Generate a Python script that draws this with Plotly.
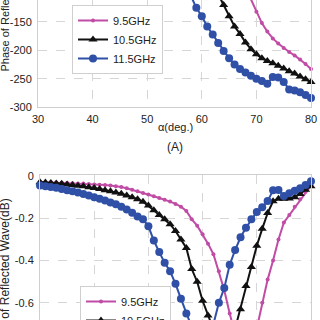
import plotly.graph_objects as go

alpha = list(range(30, 81))

# Phase of reflected wave (deg.) -- top panel
phase_95 = [-2, -3, -4, -5, -6, -7, -8, -9, -10, -11,
            -12, -13, -14, -15, -16, -17, -18, -19, -20, -22,
            -24, -26, -28, -30, -32, -34, -36, -38, -41, -44,
            -47, -51, -55, -59, -64, -69, -75, -82, -92, -110,
            -132, -152, -167, -179, -188, -196, -203, -209, -216, -224, -233]
phase_105 = [-6, -7, -8, -9, -10, -11, -12, -13, -14, -15,
             -16, -18, -20, -22, -24, -26, -28, -30, -32, -34,
             -36, -39, -42, -45, -48, -52, -56, -61, -66, -72,
             -79, -86, -93, -101, -120, -140, -158, -171, -186, -198,
             -207, -214, -219, -223, -227, -232, -237, -241, -246, -251, -256]
phase_115 = [-12, -14, -16, -18, -20, -22, -24, -26, -28, -30,
             -32, -35, -38, -41, -44, -47, -50, -53, -56, -59,
             -62, -66, -70, -75, -80, -86, -93, -98, -104, -125,
             -140, -158, -172, -187, -201, -214, -225, -233, -239, -245,
             -250, -254, -259, -247, -248, -256, -269, -271, -274, -279, -284]

# Magnitude of reflected wave (dB) -- bottom panel
mag_95 = [-0.028, -0.029, -0.030, -0.031, -0.032, -0.033, -0.034, -0.035, -0.036, -0.038,
          -0.040, -0.041, -0.043, -0.045, -0.048, -0.052, -0.058, -0.065, -0.072, -0.080,
          -0.088, -0.096, -0.104, -0.112, -0.121, -0.132, -0.145, -0.165, -0.205, -0.235,
          -0.275, -0.320, -0.370, -0.450, -0.540, -0.650, -0.760, -0.850, -0.880, -0.840,
          -0.720, -0.600, -0.490, -0.400, -0.300, -0.220, -0.185, -0.145, -0.110, -0.075, -0.045]
mag_105 = [-0.030, -0.031, -0.033, -0.035, -0.037, -0.040, -0.043, -0.046, -0.049, -0.053,
           -0.057, -0.062, -0.067, -0.072, -0.078, -0.084, -0.092, -0.100, -0.110, -0.122,
           -0.140, -0.162, -0.185, -0.205, -0.228, -0.260, -0.300, -0.340, -0.440, -0.500,
           -0.590, -0.660, -0.750, -0.820, -0.860, -0.820, -0.720, -0.630, -0.520, -0.430,
           -0.330, -0.250, -0.175, -0.120, -0.108, -0.108, -0.106, -0.100, -0.085, -0.065, -0.048]
mag_115 = [-0.045, -0.048, -0.052, -0.056, -0.062, -0.067, -0.072, -0.078, -0.085, -0.092,
           -0.100, -0.108, -0.116, -0.125, -0.134, -0.145, -0.158, -0.174, -0.192, -0.205,
           -0.238, -0.305, -0.360, -0.410, -0.450, -0.510, -0.580, -0.650, -0.720, -0.800,
           -0.850, -0.800, -0.700, -0.600, -0.530, -0.420, -0.350, -0.290, -0.245, -0.205,
           -0.170, -0.148, -0.118, -0.068, -0.066, -0.095, -0.082, -0.070, -0.058, -0.042, -0.025]

names = ["9.5GHz", "10.5GHz", "11.5GHz"]
colors = ["#c04ca6", "#111111", "#2f50a6"]
symbols = ["circle", "triangle-up", "circle"]
msizes = [4, 8, 8]

phase_ticks = [-150, -200, -250, -300]
phase_ticktext = ["-150", "-200", "-250", "-300"]
x_ticks = [30, 40, 50, 60, 70, 80]
mag_ticks = [0, -0.2, -0.4, -0.6]
mag_ticktext = ["0", "-0.2", "-0.4", "-0.6"]

W = H = 320
FONT = "Liberation Sans, Arial, sans-serif"
TXT = "#222222"
GRID = "#d6d6d6"
FRAME = "#cfcfcf"

fig = go.Figure()
for i, ys in enumerate([phase_95, phase_105, phase_115]):
    fig.add_trace(go.Scatter(
        x=alpha, y=ys, name=names[i], mode="lines+markers",
        line=dict(color=colors[i], width=2),
        marker=dict(symbol=symbols[i], size=msizes[i], color=colors[i]),
        xaxis="x", yaxis="y", legend="legend", cliponaxis=False))
for i, ys in enumerate([mag_95, mag_105, mag_115]):
    fig.add_trace(go.Scatter(
        x=alpha, y=ys, name=names[i], mode="lines+markers",
        line=dict(color=colors[i], width=2),
        marker=dict(symbol=symbols[i], size=msizes[i], color=colors[i]),
        xaxis="x2", yaxis="y2", legend="legend2", cliponaxis=False))

axis_common = dict(showgrid=True, gridcolor=GRID, griddash="dash", gridwidth=1,
                   zeroline=False, ticks="", linecolor=FRAME, linewidth=1,
                   tickfont=dict(family=FONT, size=11, color=TXT))

fig.update_layout(
    width=W, height=H, margin=dict(l=0, r=0, t=0, b=0, pad=0, autoexpand=False),
    paper_bgcolor="white", plot_bgcolor="white",
    font=dict(family=FONT, size=11, color=TXT),
    xaxis=dict(domain=[38 / W, 311 / W], range=[30, 80], tickvals=x_ticks,
               showline=True, mirror=False, anchor="y", ticklabelstandoff=2,
               **axis_common),
    yaxis=dict(domain=[1 - 107 / H, 1], range=[-300, -111.2], tickvals=phase_ticks,
               ticktext=phase_ticktext, showline=True, mirror=True, anchor="x",
               ticklabelstandoff=3, **axis_common),
    xaxis2=dict(domain=[40 / W, 311 / W], range=[30, 80], tickvals=x_ticks,
                showticklabels=False, showline=True, mirror=True, anchor="y2",
                **axis_common),
    yaxis2=dict(domain=[0, 1 - 175 / H], range=[-0.681, 0.0047], tickvals=mag_ticks,
                ticktext=mag_ticktext, showline=True, mirror=True, anchor="x2",
                ticklabelstandoff=3, **axis_common),
    legend=dict(x=72 / W, y=1 - 5 / H, xanchor="left", yanchor="top",
                bgcolor="white", bordercolor=FRAME, borderwidth=1,
                font=dict(family=FONT, size=11, color=TXT), itemwidth=30,
                tracegroupgap=0),
    legend2=dict(x=80 / W, y=1 - 286 / H, xanchor="left", yanchor="top",
                 bgcolor="white", bordercolor=FRAME, borderwidth=1,
                 font=dict(family=FONT, size=11, color=TXT), itemwidth=30,
                 tracegroupgap=0),
    showlegend=True,
)

fig.add_annotation(text="\u03b1(deg.)", xref="paper", yref="paper",
                   x=175 / W, y=1 - 127 / H, showarrow=False,
                   font=dict(family=FONT, size=11, color=TXT))
fig.add_annotation(text="(A)", xref="paper", yref="paper",
                   x=175 / W, y=1 - 147 / H, showarrow=False,
                   font=dict(family=FONT, size=12, color=TXT))
fig.add_annotation(text="Phase of Reflected Wave(deg.)", xref="paper", yref="paper",
                   x=5 / W, y=1 + 4.5 / H, textangle=-90, showarrow=False,
                   xanchor="center", yanchor="middle",
                   font=dict(family=FONT, size=11, color=TXT))
fig.add_annotation(text="Magnitude of Reflected Wave(dB)", xref="paper", yref="paper",
                   x=5 / W, y=1 - 288 / H, textangle=-90, showarrow=False,
                   xanchor="center", yanchor="middle",
                   font=dict(family=FONT, size=12, color=TXT))

fig.write_html("out.html")
